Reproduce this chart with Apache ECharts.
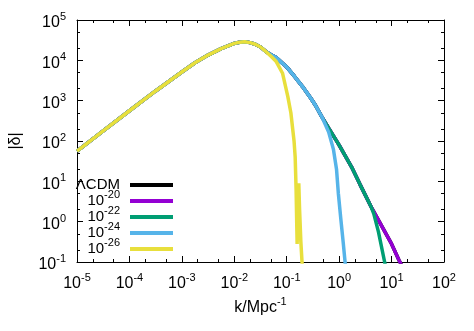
<!DOCTYPE html>
<html>
<head>
<meta charset="utf-8">
<script src="https://cdn.jsdelivr.net/npm/echarts@6/dist/echarts.min.js"></script>
<style>
  html, body { margin: 0; padding: 0; background: #fff; }
  #chart { width: 474px; height: 331px; }
</style>
</head>
<body>
<div id="chart"></div>
<script>
// Decade ticks of the two log axes
const X_DECADES = [1e-5, 1e-4, 1e-3, 1e-2, 1e-1, 1, 10, 100];
const Y_DECADES = [1e-1, 1, 10, 100, 1e3, 1e4, 1e5];

// Legend entries, one per model
const SERIES_NAMES = ['ΛCDM', '1e-20', '1e-22', '1e-24', '1e-26'];
const SERIES_COLORS = ['#000000', '#9400d3', '#009e73', '#56b4e9', '#e8df3c'];

// Shared growth curve |δ|(k) on large scales
const K_COMMON = [1e-5, 3.16e-5, 1e-4, 3.16e-4, 1e-3, 1.78e-3, 3.16e-3, 5.62e-3, 0.01, 0.0126, 0.0158, 0.02, 0.0251, 0.0316, 0.0398];
const D_COMMON = [56, 178, 562, 1740, 5130, 8710, 13500, 19500, 26300, 28200, 28800, 27500, 25100, 21400, 16600];

// Small-scale part, ΛCDM and 10^-20 (identical)
const K_CDM = [0.0501, 0.0631, 0.0794, 0.0955, 0.112, 0.141, 0.200, 0.282, 0.355, 0.468, 0.631, 1.0, 1.72, 2.51, 4.07, 6.31, 10, 13.8, 15.8];
const D_CDM = [13800, 11700, 8910, 7240, 5750, 3980, 2240, 1200, 759, 398, 209, 79, 22.9, 8.3, 2.34, 0.83, 0.28, 0.112, 0.079];

// Small-scale part, 10^-22
const K_22 = [0.0501, 0.0631, 0.0794, 0.0955, 0.112, 0.141, 0.200, 0.282, 0.355, 0.468, 0.631, 1.0, 1.72, 2.51, 4.07, 4.57, 5.62, 7.24, 7.94];
const D_22 = [13800, 11700, 8910, 7240, 5750, 3980, 2240, 1200, 759, 398, 209, 79, 22.9, 8.3, 2.34, 1.58, 0.56, 0.112, 0.063];

// Small-scale part, 10^-24
const K_24 = [0.0501, 0.0631, 0.0794, 0.0955, 0.112, 0.141, 0.200, 0.282, 0.355, 0.468, 0.631, 0.776, 0.891, 0.966, 1.07, 1.20, 1.32];
const D_24 = [13800, 11700, 8910, 7240, 5750, 3980, 2240, 1200, 759, 398, 166, 63, 20, 5.0, 1.26, 0.29, 0.079];

// Small-scale part, 10^-26
const K_26 = [0.0501, 0.0631, 0.0832, 0.105, 0.120, 0.138, 0.145, 0.151, 0.155, 0.158, 0.164, 0.170, 0.176, 0.186, 0.200];
const D_26 = [12600, 9330, 4790, 1260, 501, 100, 39.8, 6.3, 1.0, 0.28, 2.0, 8.9, 2.0, 0.32, 0.063];

const FONT = '"Liberation Sans", Arial, sans-serif';

function pairs(ks, ds) {
  return ks.map((k, i) => [k, ds[i]]);
}
function curve(kTail, dTail) {
  return pairs(K_COMMON.concat(kTail), D_COMMON.concat(dTail));
}

const seriesData = [
  curve(K_CDM, D_CDM),
  curve(K_CDM, D_CDM),
  curve(K_22, D_22),
  curve(K_24, D_24),
  curve(K_26, D_26)
];

// minor ticks at 2 and 5 inside each decade
function minorTicks(decades) {
  const out = [];
  for (let i = 0; i < decades.length - 1; i++) {
    out.push(decades[i] * 2, decades[i] * 5);
  }
  return out;
}

const supRich = {
  base: { fontSize: 16, fontFamily: FONT, color: '#000', lineHeight: 18 },
  sup: { fontSize: 11, fontFamily: FONT, color: '#000', lineHeight: 6, padding: [0, 0, 12, 0] }
};

function powerLabel(v) {
  const e = Math.round(Math.log10(v));
  return '{base|10}{sup|' + e + '}';
}

function logAxis(position, extent, decades, opts) {
  const isMinor = opts.minor;
  return {
    type: 'log',
    logBase: 10,
    min: extent[0],
    max: extent[1],
    position: position,
    gridIndex: 0,
    axisLine: { show: !isMinor, onZero: false, lineStyle: { color: '#000', width: 1 } },
    axisTick: {
      show: true,
      inside: true,
      length: isMinor ? 3 : 6,
      customValues: isMinor ? minorTicks(decades) : decades,
      lineStyle: { color: '#000', width: 1 }
    },
    minorTick: { show: false },
    splitLine: { show: false },
    axisLabel: opts.labels ? {
      show: true,
      customValues: decades,
      formatter: powerLabel,
      rich: supRich,
      margin: opts.margin,
      padding: opts.labelPadding || 0,
      hideOverlap: false
    } : { show: false },
    name: opts.name || '',
    nameLocation: 'middle',
    nameGap: opts.nameGap || 0,
    nameRotate: opts.nameRotate,
    nameMoveOverlap: false,
    nameTextStyle: opts.name ? {
      color: '#000',
      fontSize: 16,
      fontFamily: FONT,
      rich: supRich
    } : undefined
  };
}

const X_EXT = [1e-5, 1e2];
const Y_EXT = [1e-1, 1e5];

const option = {
  animation: false,
  backgroundColor: '#fff',
  grid: { left: 71, right: 30, top: 20, bottom: 69, containLabel: false },
  xAxis: [
    logAxis('bottom', X_EXT, X_DECADES, { labels: true, margin: 13, name: '{base|k/Mpc}{sup|-1}', nameGap: 37 }),
    logAxis('top', X_EXT, X_DECADES, {}),
    logAxis('bottom', X_EXT, X_DECADES, { minor: true }),
    logAxis('top', X_EXT, X_DECADES, { minor: true })
  ],
  yAxis: [
    logAxis('left', Y_EXT, Y_DECADES, { labels: true, margin: 11, labelPadding: [6, 0, 0, 0], name: '{base||δ|}', nameGap: 52, nameRotate: 90 }),
    logAxis('right', Y_EXT, Y_DECADES, {}),
    logAxis('left', Y_EXT, Y_DECADES, { minor: true }),
    logAxis('right', Y_EXT, Y_DECADES, { minor: true })
  ],
  legend: {
    show: true,
    orient: 'vertical',
    align: 'right',
    right: 301,
    top: 173.5,
    padding: 0,
    itemGap: -7.0,
    itemWidth: 43,
    itemHeight: 4,
    icon: 'rect',
    data: SERIES_NAMES,
    formatter: function (name) {
      if (name.indexOf('1e') === 0) {
        return '{lb|10}{ls|' + name.slice(2) + '}';
      }
      return '{lb|' + name + '}{ls|\u200b}';
    },
    textStyle: {
      color: '#000',
      fontSize: 15,
      fontFamily: FONT,
      padding: [0, 5, 0, 0],
      rich: {
        lb: { fontSize: 15, fontFamily: FONT, color: '#000', lineHeight: 24 },
        ls: { fontSize: 11, fontFamily: FONT, color: '#000', lineHeight: 4, padding: [0, 0, 12, 0] }
      }
    }
  },
  series: SERIES_NAMES.map((name, i) => ({
    name: name,
    type: 'line',
    xAxisIndex: 0,
    yAxisIndex: 0,
    data: seriesData[i],
    color: SERIES_COLORS[i],
    showSymbol: false,
    symbol: 'none',
    smooth: false,
    clip: true,
    lineStyle: { width: 3.5, color: SERIES_COLORS[i] },
    emphasis: { disabled: true }
  }))
};

const chart = echarts.init(document.getElementById('chart'), null, { renderer: 'canvas' });
chart.setOption(option);
</script>
</body>
</html>
